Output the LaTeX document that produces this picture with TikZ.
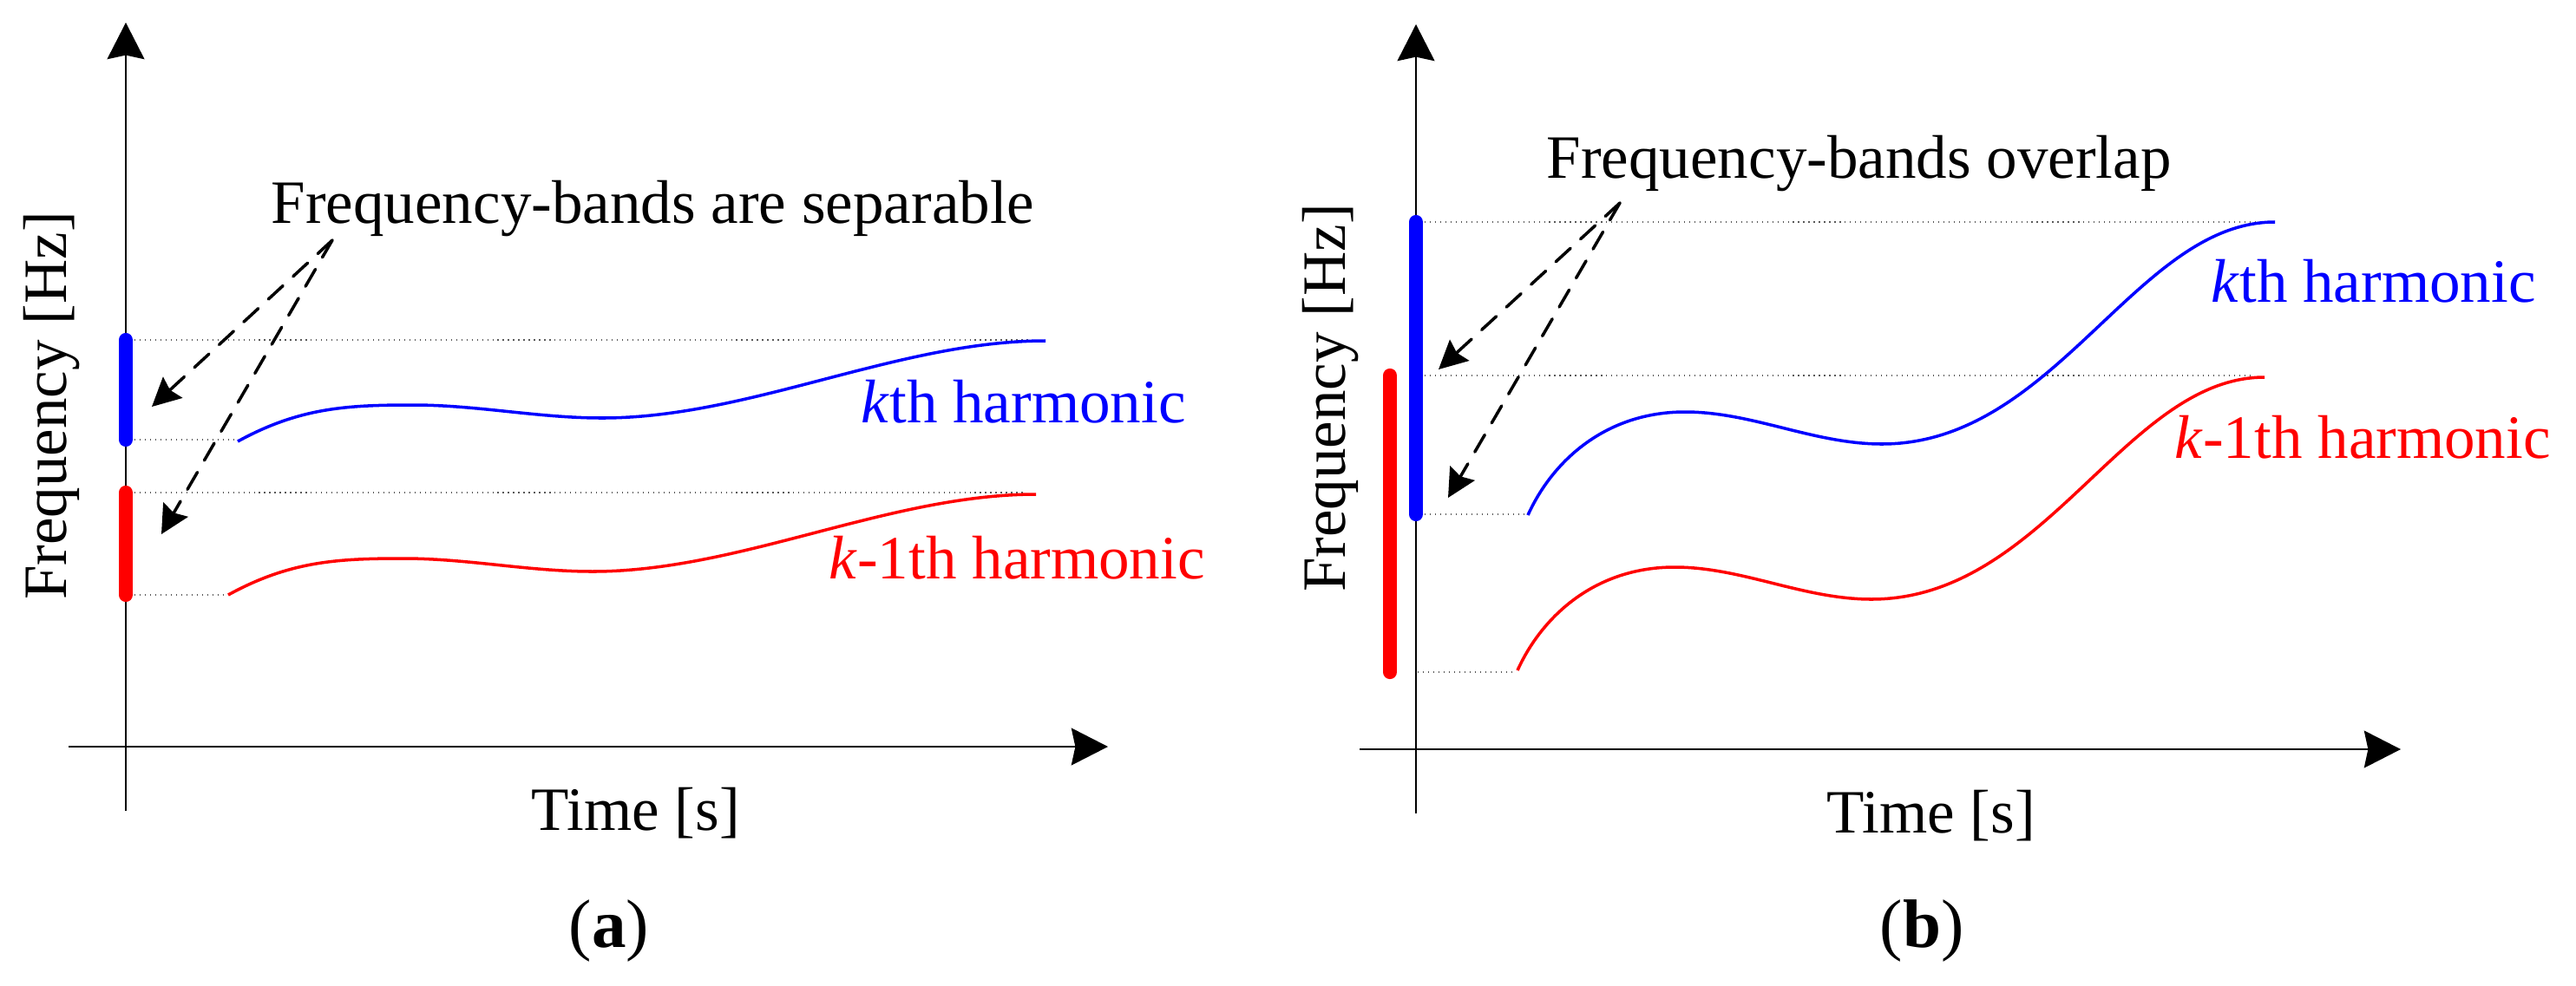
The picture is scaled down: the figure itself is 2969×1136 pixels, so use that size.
\documentclass[tikz,border=0pt]{standalone}
\usepackage{fontspec}
\setmainfont{Liberation Serif}
\usetikzlibrary{arrows.meta}
\begin{document}
\begin{tikzpicture}[x=0.01cm,y=-0.01cm,
  axisline/.style={line width=0.6pt, -{Stealth[length=12pt,width=12.2pt,inset=1.3pt]}},
  bandbar/.style={line width=4.6pt, line cap=round},
  guideline/.style={black!65, line width=0.35pt, dash pattern=on 0.35pt off 1.35pt},
  harm/.style={line width=1pt},
  pointerarrow/.style={line width=1pt, dash pattern=on 6.5pt off 4.5pt, line cap=round, -{Stealth[length=9.3pt,width=9.3pt,inset=1.2pt]}},
  lbl/.style={inner sep=0pt, font=\fontsize{20.2pt}{24pt}\selectfont},
  sublabel/.style={inner sep=0pt, font=\fontsize{22.5pt}{27pt}\selectfont}]
\fill[white] (0,0) rectangle (2969,1136);
\useasboundingbox (0,0) rectangle (2969,1136);

% ---------------- panel (a) ----------------
\draw[guideline] (155,392) -- (1188,392);
\draw[guideline] (155,507) -- (270,507);
\draw[guideline] (155,568) -- (1182,568);
\draw[guideline] (155,686) -- (260,686);

\draw[harm, blue] (274,509) .. controls (345,470) and (400,467) .. (476,467)
  .. controls (550,467) and (620,482) .. (694,482)
  .. controls (864,482) and (1035,393) .. (1205,393);
\draw[harm, red] (263,686) .. controls (334,647) and (389,644) .. (465,644)
  .. controls (539,644) and (609,659) .. (683,659)
  .. controls (853,659) and (1024,570) .. (1194,570);

\coordinate (ayb) at (145,935);
\coordinate (ayt) at (145,26);
\coordinate (axl) at (79,861);
\coordinate (axr) at (1277,861);
\draw[axisline] (ayb) -- (ayt);
\draw[axisline] (axl) -- (axr);

\draw[bandbar, blue] (145,392) -- (145,507);
\draw[bandbar, red] (145,568) -- (145,686);

\node[lbl, anchor=base west] (aNote) at (312,257) {Frequency-bands are separable};
\coordinate (aP) at (383,277);
\coordinate (aT1) at (175,469);
\coordinate (aT2) at (186,616);
\draw[pointerarrow] (aP) -- (aT1);
\draw[pointerarrow] (aP) -- (aT2);

\node[lbl, anchor=base west, text=blue] (aK) at (992,487) {\textit{k}th harmonic};
\node[lbl, anchor=base west, text=red] (aK1) at (955,667) {\textit{k}-1th harmonic};
\node[lbl, anchor=base west] (aTime) at (612,957) {Time [s]};
\node[lbl, rotate=90, anchor=base] (aFreq) at (76,468) {Frequency [Hz]};
\node[sublabel, anchor=base] (aCap) at (702,1092) {(\textbf{a})};

% ---------------- panel (b) ----------------
\draw[guideline] (1642,256) -- (2605,256);
\draw[guideline] (1642,433) -- (2595,433);
\draw[guideline] (1642,593) -- (1757,593);
\draw[guideline] (1634,775) -- (1746,775);

\draw[harm, blue] (1761,594) .. controls (1790,530) and (1852,475) .. (1942,475)
  .. controls (2020,475) and (2090,512) .. (2169,512)
  .. controls (2369,512) and (2462,256) .. (2622,256);
\draw[harm, red] (1749,773) .. controls (1778,709) and (1840,654) .. (1930,654)
  .. controls (2008,654) and (2078,691) .. (2157,691)
  .. controls (2357,691) and (2450,435) .. (2610,435);

\coordinate (byb) at (1632,938);
\coordinate (byt) at (1632,28);
\coordinate (bxl) at (1567,864);
\coordinate (bxr) at (2767,864);
\draw[axisline] (byb) -- (byt);
\draw[axisline] (bxl) -- (bxr);

\draw[bandbar, blue] (1632,256) -- (1632,593);
\draw[bandbar, red] (1602,433) -- (1602,775);

\node[lbl, anchor=base west] (bNote) at (1782,205) {Frequency-bands overlap};
\coordinate (bP) at (1867,234);
\coordinate (bT1) at (1658,426);
\coordinate (bT2) at (1669,574);
\draw[pointerarrow] (bP) -- (bT1);
\draw[pointerarrow] (bP) -- (bT2);

\node[lbl, anchor=base west, text=blue] (bK) at (2548,348) {\textit{k}th harmonic};
\node[lbl, anchor=base west, text=red] (bK1) at (2506,528) {\textit{k}-1th harmonic};
\node[lbl, anchor=base west] (bTime) at (2105,960) {Time [s]};
\node[lbl, rotate=90, anchor=base] (bFreq) at (1550,459) {Frequency [Hz]};
\node[sublabel, anchor=base] (bCap) at (2215,1092) {(\textbf{b})};
\end{tikzpicture}
\end{document}
